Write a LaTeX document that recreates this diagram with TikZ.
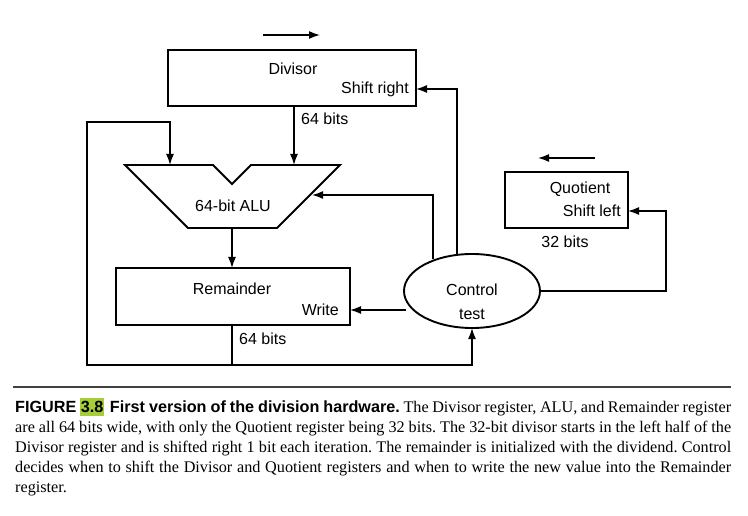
\documentclass[tikz,border=0pt]{standalone}
\usepackage{fontspec}
\setmainfont{Liberation Serif}
\setsansfont{Liberation Sans}
\usetikzlibrary{arrows.meta}
\definecolor{hl}{HTML}{A6CE39}
\begin{document}
\begin{tikzpicture}[x=1pt,y=-1pt,
  box/.style={draw,line width=1.9pt},
  wire/.style={line width=1.5pt},
  arr/.style={wire,-{Latex[length=11pt,width=8pt]}},
  lbl/.style={font=\sffamily\fontsize{16}{18}\selectfont,inner sep=0pt}]
\useasboundingbox (0,0) rectangle (748,516);
% boxes
\draw[box] (168,50) rectangle (416,106);
\node[lbl] (dv) at (293,69) {Divisor};
\node[lbl,anchor=east] (sr) at (409,89) {Shift right};
\coordinate (srin) at (416,89);
\draw[box] (116,268) rectangle (350,325);
\node[lbl] (rm) at (232,289) {Remainder};
\node[lbl,anchor=east] (wr) at (339,310) {Write};
\coordinate (wrin) at (350,310);
\draw[box] (505,172) rectangle (628,228);
\node[lbl] (qt) at (580,189) {Quotient};
\node[lbl,anchor=east] (sl) at (621,211) {Shift left};
\coordinate (slin) at (628,211);
\node[lbl] (b32) at (565,242) {32 bits};
% ALU
\draw[box,line join=miter] (125,165) -- (213,165) -- (232,184) -- (251,165) -- (340,165) -- (277,228) -- (188,228) -- cycle;
\node[lbl] (alu) at (233,206) {64-bit ALU};
% ellipse
\draw[box] (472,291) ellipse [x radius=68, y radius=37];
\node[lbl] (ct) at (472,290) {Control};
\node[lbl] (ts) at (472,314) {test};
% shift arrows
\coordinate (a1) at (263,35); \coordinate (a2) at (320,35);
\draw[arr] (a1) -- (a2);
\coordinate (q1) at (595,158); \coordinate (q2) at (538,158);
\draw[arr] (q1) -- (q2);
% wires
\draw[arr] (294,106) -- (294,165);
\node[lbl,anchor=west] (b64a) at (301,119) {64 bits};
\draw[arr] (232,228) -- (232,268);
\draw[wire] (232,325) -- (232,365);
\node[lbl,anchor=west] (b64b) at (239,339) {64 bits};
\draw[arr] (232,365) -- (87,365) -- (87,122) -- (170,122) -- (170,165);
\draw[arr] (232,365) -- (472,365) -- (472,328);
\draw[arr] (433,259) -- (433,195) -- (312,195);
\draw[arr] (457,255) -- (457,89) -- (srin);
\draw[arr] (406,310) -- (wrin);
\draw[arr] (540,291) -- (666,291) -- (666,211) -- (slin);
% caption
\draw[line width=1.2pt,black!75] (13,387) -- (731,387);
\node[anchor=north west,inner sep=0pt,align=justify,text width=716pt,
  font=\fontsize{16.2}{20}\selectfont\frenchspacing] (cap) at (15,398)
 {{\sffamily\bfseries FIGURE \colorbox{hl}{\kern-2.5pt 3.8\kern-2.5pt}\hspace{6pt}First version of the division hardware.} The Divisor register, ALU, and Remainder register are all 64 bits wide, with only the Quotient register being 32 bits. The 32-bit divisor starts in the left half of the Divisor register and is shifted right 1 bit each iteration. The remainder is initialized with the dividend. Control decides when to shift the Divisor and Quotient registers and when to write the new value into the Remainder register.};
\end{tikzpicture}
\end{document}
